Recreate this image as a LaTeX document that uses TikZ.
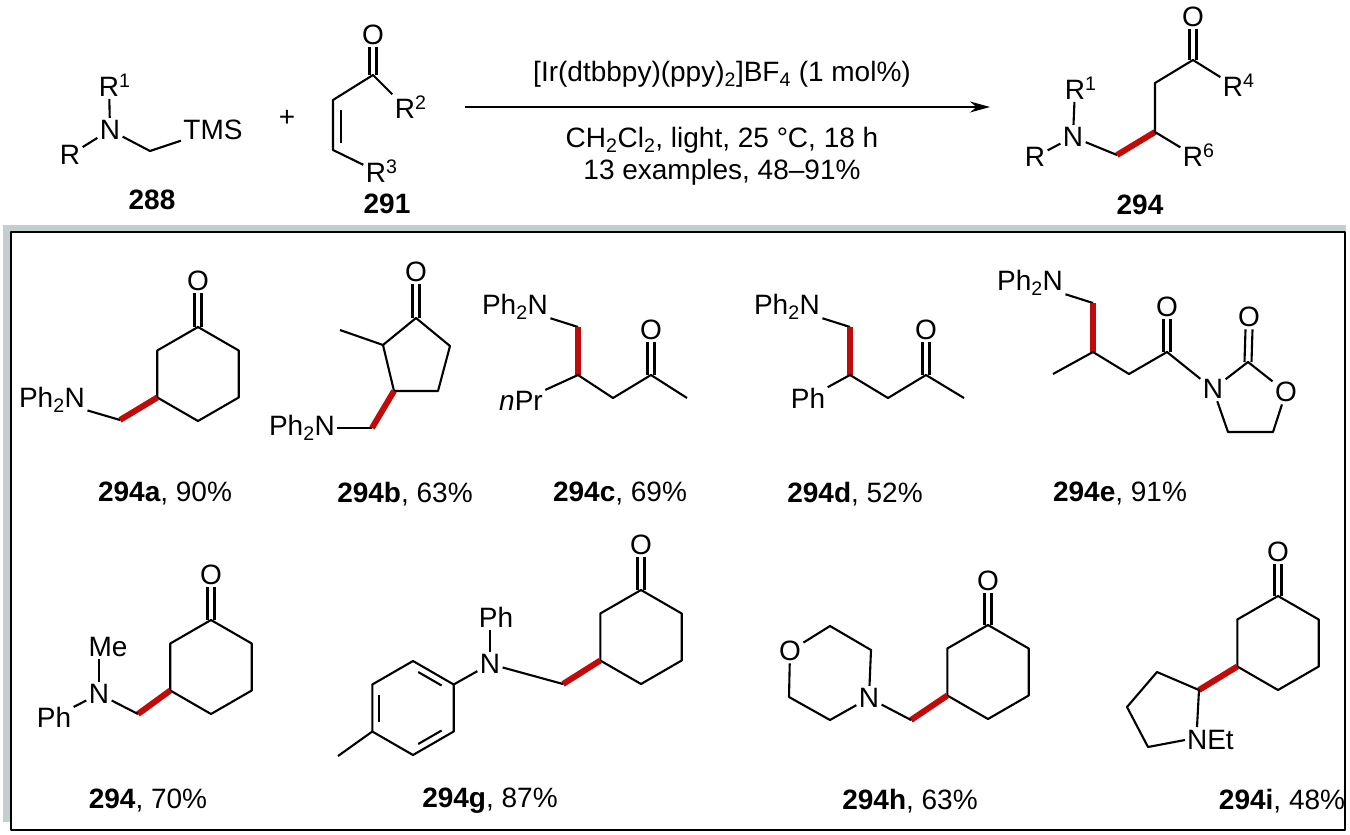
\documentclass[tikz,border=0pt]{standalone}
\usepackage{fontspec}
\setmainfont{Liberation Sans}
\usetikzlibrary{arrows.meta}
\definecolor{bondred}{RGB}{195,10,10}
\definecolor{framegray}{RGB}{196,206,206}
\newcommand\fs{\fontsize{28}{32}\selectfont}
\newcommand\Rs[1]{R\rlap{\textsuperscript{#1}}}
\newcommand\hexring[3]{%
  \foreach \a/\n in {-90/1,-30/2,30/3,90/4,150/5,210/6}
    \coordinate (#1\n) at ([shift={(#2,#3)}]\a:47);
  \draw (#11)--(#12)--(#13)--(#14)--(#15)--(#16)--cycle;}
\newcommand\carbonyl[2]{% carbon coordinate, O node
  \draw ([xshift=-3.5pt]#1) -- ([xshift=-3.5pt]#2.south);
  \draw ([xshift=3.5pt]#1) -- ([xshift=3.5pt]#2.south);}
\begin{document}
\begin{tikzpicture}[x=1pt,y=-1pt,line width=2.1pt,line join=round,
  atm/.style={font=\fs,inner sep=1.5pt},
  txt/.style={font=\fs,inner sep=0pt},
  rb/.style={draw=bondred,line width=6pt}]
\useasboundingbox (0,0) rectangle (1350,835);
% frame
\fill[framegray] (3,225) rectangle (1346,822);
\draw[fill=white,line width=1.6pt] (11,232) rectangle (1345,830);

% ---- 288
\node[atm] (N288) at (110,130) {N};
\node[atm] (R1a) at (109,85) {\Rs{1}};
\node[atm] (Ra) at (70,155) {R};
\node[atm] (TMS) at (213,130) {TMS};
\coordinate (c288) at (150,151);
\draw (Ra) -- (N288); \draw (N288) -- (R1a);
\draw (N288) -- (c288) -- (TMS);
\node[txt,font=\fs\bfseries] (l288) at (152,200) {288};
\node[txt] (plus) at (287,118) {+};
% ---- 291
\coordinate (a1) at (373,75); \coordinate (a2) at (333,100); \coordinate (a3) at (333,150);
\node[atm] (Oa) at (373,35) {O};
\node[atm] (R2a) at (405,107) {\Rs{2}};
\node[atm] (R3a) at (376,171) {\Rs{3}};
\carbonyl{a1}{Oa}
\draw (R2a) -- (a1) -- (a2) -- (a3) -- (R3a);
\draw (341,110) -- (341,143);
\node[txt,font=\fs\bfseries] (l291) at (387,204) {291};
% ---- arrow and conditions
\coordinate (ar1) at (465,107); \coordinate (ar2) at (990,107);
\draw[line width=1.6pt,-{Stealth[length=20pt,width=11pt]}] (ar1) -- (ar2);
\node[txt] (cond1) at (722,74) {[Ir(dtbbpy)(ppy)\textsubscript{2}]BF\textsubscript{4} (1 mol\%)};
\node[txt] (cond2) at (722,140) {CH\textsubscript{2}Cl\textsubscript{2}, light, 25 °C, 18 h};
\node[txt] (cond3) at (722,172) {13 examples, 48–91\%};
% ---- 294 product
\node[atm] (Np) at (1073,137) {N};
\node[atm] (R1p) at (1075,88) {\Rs{1}};
\node[atm] (Rp) at (1035,157) {R};
\coordinate (p1) at (1117,155); \coordinate (p2) at (1155,132);
\coordinate (p3) at (1155,83); \coordinate (p4) at (1193,60);
\node[atm] (Op) at (1193,17) {O};
\node[atm] (R4p) at (1233,85) {\Rs{4}};
\node[atm] (R6p) at (1193,155) {\Rs{6}};
\draw (Rp) -- (Np); \draw (Np) -- (R1p);
\draw (Np) -- (p1); \draw[rb] (p1) -- (p2);
\draw (R6p) -- (p2) -- (p3) -- (p4) -- (R4p);
\carbonyl{p4}{Op}
\node[txt,font=\fs\bfseries] (l294) at (1140,205) {294};

% ---- 294a
\hexring{ha}{198}{374}
\node[atm] (Oha) at (198,281) {O}; \carbonyl{ha1}{Oha}
\coordinate (ca) at (120,420);
\node[atm] (Na) at (52,400) {Ph\textsubscript{2}N};
\draw[rb] (ha5) -- (ca); \draw (Na) -- (ca);
\node[txt] (la) at (165,494) {\textbf{294a}, 90\%};
% ---- 294b
\coordinate (b1) at (416,318); \coordinate (b5) at (450,346);
\coordinate (b4) at (438,391); \coordinate (b3) at (394,391);
\coordinate (b2) at (383,345); \coordinate (bm) at (340,330);
\coordinate (bc) at (372,428);
\node[atm] (Ob) at (416,272) {O}; \carbonyl{b1}{Ob}
\draw (b1) -- (b5) -- (b4) -- (b3) -- (b2) -- cycle; \draw (b2) -- (bm);
\draw[rb] (b3) -- (bc);
\node[atm] (Nb) at (302,428) {Ph\textsubscript{2}N};
\draw (Nb) -- (bc);
\node[txt] (lb) at (405,494) {\textbf{294b}, 63\%};
% ---- 294c
\node[atm] (Nc) at (515,307) {Ph\textsubscript{2}N};
\coordinate (c1) at (578,327); \coordinate (c2) at (578,375);
\coordinate (c3) at (613,398); \coordinate (c4) at (651,375); \coordinate (c5) at (687,398);
\node[atm] (Oc) at (651,330) {O}; \carbonyl{c4}{Oc}
\node[atm] (Prc) at (521,401) {\textit{n}Pr};
\draw (Nc) -- (c1); \draw[rb] (c1) -- (c2);
\draw (Prc) -- (c2) -- (c3) -- (c4) -- (c5);
\node[txt] (lc) at (620,494) {\textbf{294c}, 69\%};
% ---- 294d
\node[atm] (Nd) at (787,307) {Ph\textsubscript{2}N};
\coordinate (d1) at (850,327); \coordinate (d2) at (850,375);
\coordinate (d3) at (888,398); \coordinate (d4) at (926,375); \coordinate (d5) at (964,398);
\node[atm] (Od) at (926,330) {O}; \carbonyl{d4}{Od}
\node[atm] (Phd) at (808,398) {Ph};
\draw (Nd) -- (d1); \draw[rb] (d1) -- (d2);
\draw (Phd) -- (d2) -- (d3) -- (d4) -- (d5);
\node[txt] (ld) at (855,494) {\textbf{294d}, 52\%};
% ---- 294e
\node[atm] (Ne) at (1030,283) {Ph\textsubscript{2}N};
\coordinate (e1) at (1093,303); \coordinate (e2) at (1093,352);
\coordinate (em) at (1053,374); \coordinate (e3) at (1129,374); \coordinate (e4) at (1167,352);
\node[atm] (Oe) at (1167,307) {O}; \carbonyl{e4}{Oe}
\node[atm] (Nox) at (1213,389) {N};
\coordinate (x2) at (1248,362); \coordinate (x5) at (1273,432); \coordinate (x4) at (1228,432);
\node[atm] (Ox) at (1286,392) {O};
\node[atm] (Oxo) at (1249,317) {O}; \carbonyl{x2}{Oxo}
\draw (Ne) -- (e1); \draw[rb] (e1) -- (e2);
\draw (em) -- (e2) -- (e3) -- (e4) -- (Nox);
\draw (Nox) -- (x2) -- (Ox); \draw (Ox) -- (x5) -- (x4) -- (Nox);
\node[txt] (le) at (1120,494) {\textbf{294e}, 91\%};

% ---- 294 (row 2)
\hexring{hf}{211}{667}
\node[atm] (Ohf) at (211,575) {O}; \carbonyl{hf1}{Ohf}
\coordinate (cf) at (138,714);
\node[atm] (Nf) at (99,694) {N};
\node[atm] (Mef) at (108,647) {Me};
\node[atm] (Phf) at (54,717) {Ph};
\draw[rb] (hf5) -- (cf); \draw (Nf) -- (cf);
\draw (Nf) -- (Nf |- Mef.south); \draw (Phf) -- (Nf);
\node[txt] (lf) at (148,801) {\textbf{294}, 70\%};
% ---- 294g
\hexring{hg}{641}{637}
\node[atm] (Ohg) at (641,545) {O}; \carbonyl{hg1}{Ohg}
\coordinate (cg) at (563,684);
\node[atm] (Ng) at (490,664) {N};
\node[atm] (Phg) at (496,617) {Ph};
\hexring{tg}{413}{708}
\foreach \p/\q in {1/2,3/4,5/6}
  \draw[shorten <=6pt,shorten >=6pt] ([shift={(413,708)}]-90+60*\p-60:39) -- ([shift={(413,708)}]-90+60*\q-60:39);
\coordinate (mg) at (338,756);
\draw (tg5) -- (mg); \draw (tg2) -- (Ng);
\draw[rb] (hg5) -- (cg); \draw (Ng) -- (cg);
\draw (Ng) -- (Ng |- Phg.south);
\node[txt] (lg) at (490,801) {\textbf{294g}, 87\%};
% ---- 294h
\hexring{hh}{988}{672}
\node[atm] (Ohh) at (988,581) {O}; \carbonyl{hh1}{Ohh}
\coordinate (ch) at (911,720);
\coordinate (m1) at (830,626); \coordinate (m2) at (871,650);
\coordinate (m4) at (830,720); \coordinate (m5) at (789,697);
\node[atm] (Nh) at (869,698) {N};
\node[atm] (Oh) at (790,651) {O};
\draw (Nh) -- (m2) -- (m1) -- (Oh); \draw (Oh) -- (m5) -- (m4) -- (Nh);
\draw[rb] (hh5) -- (ch); \draw (Nh) -- (ch);
\node[txt] (lh) at (910,801) {\textbf{294h}, 63\%};
% ---- 294i
\hexring{hi}{1278}{643}
\node[atm] (Ohi) at (1278,552) {O}; \carbonyl{hi1}{Ohi}
\coordinate (i2) at (1199,690); \coordinate (i3) at (1157,672);
\coordinate (i4) at (1127,707); \coordinate (i5) at (1148,747);
\node[atm,anchor=west,inner sep=0pt] (Ni) at (1186,740) {NEt};
\coordinate (iN) at (1197,727); \coordinate (iNl) at (1185,740);
\draw[rb] (hi5) -- (i2);
\draw (iN) -- (i2) -- (i3) -- (i4) -- (i5) -- (iNl);
\node[txt] (li) at (1282,801) {\textbf{294i}, 48\%};
\end{tikzpicture}
\end{document}
